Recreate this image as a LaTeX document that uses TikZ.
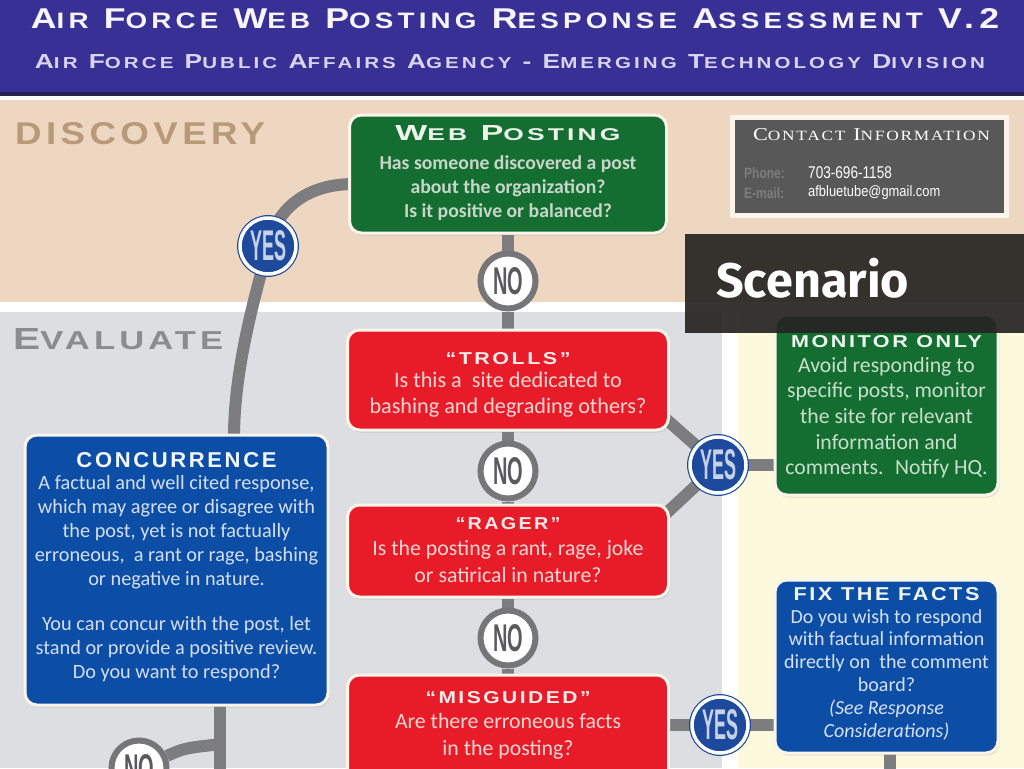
\documentclass[tikz,border=0pt]{standalone}
\usepackage{fontspec}
\usepackage{graphicx}
\setmainfont{Carlito}
\newfontfamily\hdrf{Liberation Sans}[LetterSpace=15]
\newfontfamily\capf{Liberation Sans}[LetterSpace=12]
\newfontfamily\serf{Liberation Serif}[LetterSpace=10]
\newfontfamily\plainf{Liberation Sans}
\newfontfamily\scenf{Fira Sans}
\usetikzlibrary{shadows,calc}
\makeatletter
\newcommand\smcx[2]{{\fontsize{\fpeval{#1*\f@size}}{\f@baselineskip}\selectfont #2}}
\makeatother
\newcommand\smc[1]{\smcx{0.78}{#1}}
\newcommand\fitto[3]{\resizebox{#1pt}{#2pt}{#3}}
\definecolor{hdrblue}{RGB}{56,48,148}
\definecolor{hdrline}{RGB}{40,36,80}
\definecolor{hdrtext}{RGB}{245,245,250}
\definecolor{subtext}{RGB}{215,212,238}
\definecolor{tanbg}{RGB}{237,215,192}
\definecolor{evgray}{RGB}{221,222,225}
\definecolor{pyellow}{RGB}{253,249,221}
\definecolor{boxgreen}{RGB}{20,110,50}
\definecolor{boxred}{RGB}{232,28,40}
\definecolor{boxblue}{RGB}{12,78,166}
\definecolor{yesblue}{RGB}{30,74,158}
\definecolor{yestext}{RGB}{200,210,230}
\definecolor{ringgray}{RGB}{118,118,120}
\definecolor{notext}{RGB}{90,90,92}
\definecolor{conn}{RGB}{125,125,128}
\definecolor{edge}{RGB}{250,244,234}
\definecolor{discc}{RGB}{184,154,120}
\definecolor{evalc}{RGB}{140,140,144}
\definecolor{contactbg}{RGB}{88,88,88}
\definecolor{lblgray}{RGB}{125,125,125}
\definecolor{banner}{RGB}{38,36,34}
\definecolor{webtitle}{RGB}{238,244,236}
\definecolor{webbody}{RGB}{200,214,200}
\definecolor{redtitle}{RGB}{248,236,236}
\definecolor{redbody}{RGB}{250,214,210}
\definecolor{conctitle}{RGB}{245,248,252}
\definecolor{concbody}{RGB}{212,222,240}
\definecolor{montitle}{RGB}{240,246,240}
\definecolor{monbody}{RGB}{200,222,202}
\definecolor{fixbody}{RGB}{214,224,242}
\pgfdeclarelayer{bgl}
\pgfdeclarelayer{conn}
\pgfsetlayers{bgl,conn,main}
\begin{document}
\begin{tikzpicture}[x=1pt,y=-1pt,
  flowbox/.style={rounded corners=12pt, draw=edge, line width=3pt, inner sep=0pt,
    drop shadow={opacity=0.2, shadow xshift=1.5pt, shadow yshift=-2.5pt}},
  txt/.style={inner sep=0pt, align=center},
  yesnode/.style={circle, inner sep=0pt, minimum size=56pt, fill=yesblue, draw=yesblue,
    line width=1.2pt, double=white, double distance=3.5pt, text=yestext},
  nonode/.style={circle, inner sep=0pt, minimum size=55pt, fill=white, draw=ringgray,
    line width=6pt, text=notext},
  connector/.style={draw=conn, line width=12pt}]
\useasboundingbox (0,0) rectangle (1024,768);
\begin{pgfonlayer}{bgl}
\fill[hdrblue] (0,0) rectangle (1024,92);
\fill[hdrline] (0,92) rectangle (1024,96);
\fill[white] (0,96) rectangle (1024,768);
\fill[tanbg] (0,100) rectangle (1024,302);
\fill[evgray] (0,312) rectangle (722,768);
\fill[pyellow] (738,312) rectangle (1024,768);
\end{pgfonlayer}

% header
\node[txt, anchor=base] (title) at (515,29) {\color{hdrtext}\fitto{968}{20}{\hdrf\bfseries A\smc{IR} F\smc{ORCE} W\smc{EB} P\smc{OSTING} R\smc{ESPONSE} A\smc{SSESSMENT} V.2}};
\node[txt, anchor=base] (subtitle) at (510,68) {\color{subtext}\fitto{950}{14}{\hdrf\bfseries A\smc{IR} F\smc{ORCE} P\smc{UBLIC} A\smc{FFAIRS} A\smc{GENCY} - E\smc{MERGING} T\smc{ECHNOLOGY} D\smc{IVISION}}};

% section labels
\node[txt, anchor=base west] (disc) at (15,144) {\textcolor{discc}{\fitto{250}{22}{\capf\bfseries DISCOVERY}}};
\node[txt, anchor=base west] (eval) at (13,349) {\textcolor{evalc}{\fitto{210}{21}{\capf\bfseries E\smcx{0.85}{VALUATE}}}};

% contact box
\node[draw=edge, line width=5pt, fill=contactbg, minimum width=274pt, minimum height=98pt, inner sep=0pt,
  drop shadow={opacity=0.2, shadow xshift=1.5pt, shadow yshift=-2pt}] (contact) at (869,166) {};
\node[txt, anchor=north] (contactT) at (871.5,128) {\color{white}\fitto{237}{12}{\serf C\smc{ONTACT} I\smc{NFORMATION}}};
\node[txt, anchor=west] (phL) at (744,173) {\color{lblgray}\plainf\bfseries\fontsize{15}{15}\selectfont\scalebox{0.8}[1]{Phone:}};
\node[txt, anchor=west] (phN) at (808,173) {\color{white}\plainf\fontsize{17}{17}\selectfont\scalebox{0.8}[1]{703-696-1158}};
\node[txt, anchor=west] (emL) at (744,193) {\color{lblgray}\plainf\bfseries\fontsize{15}{15}\selectfont\scalebox{0.8}[1]{E-mail:}};
\node[txt, anchor=west] (emN) at (808,193) {\color{white}\plainf\fontsize{15}{15}\selectfont\scalebox{0.86}[1]{afbluetube@gmail.com}};

% boxes
\node[flowbox, fill=boxgreen, minimum width=317pt, minimum height=118pt] (web) at (508,174) {};
\node[flowbox, fill=boxred, minimum width=321pt, minimum height=100pt] (trolls) at (508,380) {};
\node[flowbox, fill=boxred, minimum width=321pt, minimum height=92pt] (rager) at (508,551) {};
\node[flowbox, fill=boxred, minimum width=321pt, minimum height=116pt] (misg) at (508,733) {};
\node[flowbox, fill=boxblue, minimum width=303pt, minimum height=270pt] (conc) at (176.5,570) {};
\node[flowbox, fill=boxgreen, minimum width=223pt, minimum height=180pt] (monitor) at (886.5,405) {};
\node[flowbox, fill=boxblue, minimum width=223pt, minimum height=173pt] (fix) at (886.5,666.5) {};

% box texts
\node[txt, anchor=north, text=webbody, font=\bfseries\fontsize{19.7}{24}\selectfont] (webT) at (508,125)
 {\textcolor{webtitle}{\fitto{225}{15}{\capf W\smc{EB} P\smc{OSTING}}}\\[5pt]Has someone discovered a post\\about the organization?\\Is it positive or balanced?};
\node[txt, anchor=north, text=redbody, font=\fontsize{22.2}{26}\selectfont] (trollsT) at (508,352)
 {\textcolor{redtitle}{\fitto{125}{12}{\capf\bfseries “TROLLS”}}\\[-3pt]Is this a~ site dedicated to\\bashing and degrading others?};
\node[txt, anchor=north, text=redbody, font=\fontsize{21.8}{27}\selectfont] (ragerT) at (508,517)
 {\textcolor{redtitle}{\fitto{105}{12}{\capf\bfseries “RAGER”}}\\[-1pt]Is the posting a rant, rage, joke\\or satirical in nature?};
\node[txt, anchor=north, text=redbody, font=\fontsize{21.8}{27}\selectfont] (misgT) at (508,691)
 {\textcolor{redtitle}{\fitto{165}{12}{\capf\bfseries “MISGUIDED”}}\\[-2pt]Are there erroneous facts\\in the posting?};
\node[txt, anchor=north, text=concbody, font=\fontsize{20.3}{24}\selectfont] (concT) at (176.5,452)
 {\textcolor{conctitle}{\fitto{200}{15}{\capf\bfseries CONCURRENCE}}\\[-2pt]A factual and well cited response,\\which may agree or disagree with\\the post, yet is not factually\\erroneous,~ a rant or rage, bashing\\or negative in nature.\\[21pt]You can concur with the post, let\\stand or provide a positive review.\\Do you want to respond?};
\node[txt, anchor=north, text=monbody, font=\fontsize{21.7}{25.6}\selectfont] (monT) at (886.5,335)
 {\textcolor{montitle}{\fitto{191}{12}{\capf\bfseries MONITOR ONLY}}\\[-0.6pt]Avoid responding to\\specific posts, monitor\\the site for relevant\\information and\\comments.~ Notify HQ.};
\node[txt, anchor=north, text=fixbody, font=\fontsize{20}{22.8}\selectfont] (fixT) at (886.5,587)
 {\textcolor{montitle}{\fitto{186}{13}{\capf\bfseries FIX THE FACTS}}\\[0pt]Do you wish to respond\\with factual information\\directly on~ the comment\\board?\\\textit{(See Response}\\\textit{Considerations)}};

% decision circles
\node[nonode] (no1) at (508,281) {\fitto{30}{27}{\plainf\bfseries NO}};
\node[nonode] (no2) at (508,471) {\fitto{30}{27}{\plainf\bfseries NO}};
\node[nonode] (no3) at (508,638) {\fitto{30}{27}{\plainf\bfseries NO}};
\node[nonode] (no4) at (139,768) {\fitto{30}{27}{\plainf\bfseries NO}};
\node[yesnode] (yes1) at (268,246) {\fitto{36}{30}{\plainf\bfseries YES}};
\node[yesnode] (yes2) at (718,465) {\fitto{36}{30}{\plainf\bfseries YES}};
\node[yesnode] (yes3) at (720,725) {\fitto{36}{30}{\plainf\bfseries YES}};

\coordinate (bot1) at (220,775);
\coordinate (j1) at (222,744);
\coordinate (bot2) at (890,775);

% connectors
\begin{pgfonlayer}{conn}
\draw[connector] (web) -- (no1) -- (trolls) -- (no2) -- (rager) -- (no3) -- (misg);
\draw[connector] ($(web.west)+(6,10)$) .. controls (300,184) and (275,215) .. (yes1.center)
  .. controls (261,277) and (234,360) .. ($(conc.north)+(57.5,4)$);
\draw[connector] (bot1 |- conc.center) -- (bot1);
\draw[connector] (no4) .. controls (185,748) .. (j1);
\draw[connector] ($(trolls.east)+(-12,32)$) -- (yes2);
\draw[connector] ($(rager.east)+(-12,-30)$) -- (yes2);
\draw[connector] (yes2) -- (yes2 -| monitor.center);
\draw[connector] (yes3 -| misg.center) -- (yes3) -- (yes3 -| fix.center);
\draw[connector] (bot2 |- fix.center) -- (bot2);
\end{pgfonlayer}

% scenario banner
\node[fill=banner, fill opacity=0.92, minimum width=339pt, minimum height=99pt, inner sep=0pt, anchor=north west] (scen) at (685,234) {};
\node[anchor=base west, inner sep=0pt, text=white, font=\scenf\bfseries\fontsize{48.5}{48.5}\selectfont] (scenT) at (716,297) {Scenario};
\end{tikzpicture}
\end{document}
